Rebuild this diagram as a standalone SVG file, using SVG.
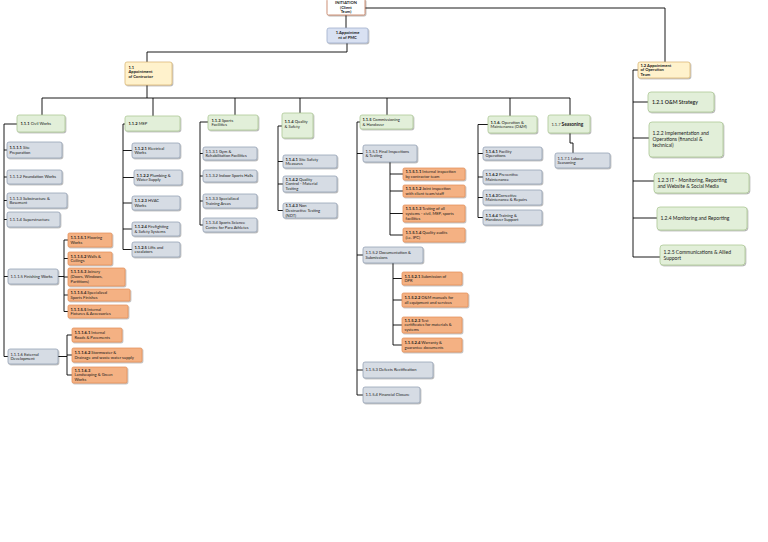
<svg xmlns="http://www.w3.org/2000/svg" width="768" height="542" viewBox="0 0 768 542">
<defs>
<filter id="sh" x="-10%" y="-10%" width="130%" height="150%"><feDropShadow dx="0.8" dy="0.9" stdDeviation="0.5" flood-color="#000" flood-opacity="0.35"/></filter>
<style>
rect{filter:url(#sh);stroke-width:0.7}
.g{fill:#e2efd9;stroke:#a8c48e}
.b{fill:#d6dce4;stroke:#8e9bb0}
.o{fill:#f4b183;stroke:#e38d53}
.y{fill:#fff2cc;stroke:#d9b36a}
.w{fill:#ffffff;stroke:#c8876a;stroke-width:0.9}
.p{fill:#d9e1f2;stroke:#9aabc8}
text{font-family:Lato,"Liberation Sans",sans-serif;font-size:4.1px;fill:#1a1a1a}
.bd{font-weight:bold}
.c{text-anchor:middle}
.l{font-size:5px}
.con{fill:none;stroke:#000;stroke-width:0.9}
</style>
</defs>
<rect width="768" height="542" fill="#fff" style="filter:none"/>
<g id="connectors" class="con">
<path d="M346 15V28M365 8H665V62M347 43V52H147V62M147 85V98M42 98H570M42 98V115M153 98V116M235 98V115M300 98V113M387 98V115M510 98V116M570 98V115"/>
<path d="M17 124H4V356.5M4 150H7M4 177H7M4 200.5H7M4 219.5H7M4 276.5H8M4 356.5H8"/>
<path d="M58 276.5H64M64 240V311.5M64 240H68M64 258.5H68M64 277H68M64 295H68M64 311.5H68"/>
<path d="M58 356.5H67M67 335V375M67 335H72M67 355H72M67 375H72"/>
<path d="M125 124H123V249.5M123 150.5H132M123 177.5H134M123 203H132M123 229H132M123 249.5H132"/>
<path d="M208 122H200V225M200 153.5H203M200 176H203M200 201H203M200 225H203"/>
<path d="M282 126H278V210.5M278 161.5H283M278 184H283M278 210.5H283"/>
<path d="M360 122H357V395M357 153.5H363M357 255H363M357 370H363M357 395H363"/>
<path d="M390 162V235M390 174H403M390 191H403M390 213.5H403M390 235H403"/>
<path d="M393 263V345M393 278.5H402M393 300H402M393 325H402M393 345H402"/>
<path d="M488 124.5H478V217.5M478 153.5H483M478 177H483M478 197.5H483M478 217.5H483"/>
<path d="M570 133V143H573V153"/>
<path d="M638 70H633V257M633 102H648M633 138H649M633 181H654M633 218H657M633 257H660"/>
</g>
<g id="n-root"><rect class="w" x="327" y="-1" width="38" height="16" rx="1.5"/><text class="bd c"><tspan x="346" y="4">INITIATION</tspan><tspan x="346" y="8.7">(Client</tspan><tspan x="346" y="13.4">Team)</tspan></text></g>
<g id="n-1"><rect class="p" x="327" y="28" width="41" height="15" rx="2"/><text class="bd c"><tspan x="347.5" y="34.4">1.Appointme</tspan><tspan x="347.5" y="39.2">nt of PMC</tspan></text></g>
<g id="n-1-1"><rect class="y" x="125" y="62" width="47" height="23" rx="2"/><text class="bd"><tspan x="128.5" y="68.5">1.1</tspan><tspan x="128.5" y="73.2">Appointment</tspan><tspan x="128.5" y="77.9">of Contractor</tspan></text></g>

<g id="n-1-1-1"><rect class="g" x="17" y="115" width="48" height="17" rx="2"/><text x="20.5" y="124.85"><tspan class="bd">1.1.1</tspan> Civil Works</text></g>
<g id="n-1-1-1-1"><rect class="b" x="7" y="142" width="55" height="16" rx="2"/><text><tspan x="9.5" y="149.1"><tspan class="bd">1.1.1.1</tspan> Site</tspan><tspan x="9.5" y="153.8">Preparation</tspan></text></g>
<g id="n-1-1-1-2"><rect class="b" x="7" y="170" width="55" height="14" rx="2"/><text x="9.5" y="178.4">1.1.1.2 Foundation Works</text></g>
<g id="n-1-1-1-3"><rect class="b" x="7" y="193" width="60" height="15" rx="2"/><text><tspan x="9.5" y="199.6">1.1.1.3 Substructure &amp;</tspan><tspan x="9.5" y="204.3">Basement</tspan></text></g>
<g id="n-1-1-1-4"><rect class="b" x="7" y="212" width="53" height="15" rx="2"/><text x="9.5" y="220.9">1.1.1.4 Superstructure</text></g>
<g id="n-1-1-1-5"><rect class="b" x="8" y="269" width="50" height="15" rx="2"/><text x="10.5" y="277.9">1.1.1.5 Finishing Works</text></g>
<g id="n-1-1-1-6"><rect class="b" x="8" y="349" width="50" height="15" rx="2"/><text><tspan x="10.5" y="355.6">1.1.1.6 External</tspan><tspan x="10.5" y="360.3">Development</tspan></text></g>

<g id="n-1-1-1-5-1"><rect class="o" x="68" y="233" width="44" height="14" rx="1.5"/><text><tspan x="70.5" y="239.1"><tspan class="bd">1.1.1.5.1</tspan> Flooring</tspan><tspan x="70.5" y="243.8">Works</tspan></text></g>
<g id="n-1-1-1-5-2"><rect class="o" x="68" y="252" width="44" height="13" rx="1.5"/><text><tspan x="70.5" y="257.6"><tspan class="bd">1.1.1.5.2</tspan> Walls &amp;</tspan><tspan x="70.5" y="262.3">Ceilings</tspan></text></g>
<g id="n-1-1-1-5-3"><rect class="o" x="68" y="268" width="57" height="18" rx="1.5"/><text><tspan x="70.5" y="273.2"><tspan class="bd">1.1.1.5.3</tspan> Joinery</tspan><tspan x="70.5" y="277.9">(Doors, Windows,</tspan><tspan x="70.5" y="282.6">Partitions)</tspan></text></g>
<g id="n-1-1-1-5-4"><rect class="o" x="68" y="289" width="62" height="12" rx="1.5"/><text><tspan x="70.5" y="294.1"><tspan class="bd">1.1.1.5.4</tspan> Specialized</tspan><tspan x="70.5" y="298.8">Sports Finishes</tspan></text></g>
<g id="n-1-1-1-5-5"><rect class="o" x="68" y="305" width="60" height="13" rx="1.5"/><text><tspan x="70.5" y="310.6"><tspan class="bd">1.1.1.5.5</tspan> Internal</tspan><tspan x="70.5" y="315.3">Fixtures &amp; Accessories</tspan></text></g>

<g id="n-1-1-1-6-1"><rect class="o" x="72" y="328" width="50" height="14" rx="1.5"/><text><tspan x="74.5" y="334.1"><tspan class="bd">1.1.1.6.1</tspan> Internal</tspan><tspan x="74.5" y="338.8">Roads &amp; Pavements</tspan></text></g>
<g id="n-1-1-1-6-2"><rect class="o" x="72" y="348" width="70" height="14" rx="1.5"/><text><tspan x="74.5" y="354.1"><tspan class="bd">1.1.1.6.2</tspan>  Stormwater &amp;</tspan><tspan x="74.5" y="358.8">Drainage and waste water supply</tspan></text></g>
<g id="n-1-1-1-6-3"><rect class="o" x="72" y="367" width="55" height="16" rx="1.5"/><text><tspan x="74.5" y="371.7" class="bd">1.1.1.6.3</tspan><tspan x="74.5" y="376.4">Landscaping &amp; Green</tspan><tspan x="74.5" y="381.1">Works</tspan></text></g>

<g id="n-1-1-2"><rect class="g" x="125" y="116" width="55" height="15" rx="2"/><text x="128.5" y="124.85"><tspan class="bd">1.1.2</tspan> MEP</text></g>
<g id="n-1-1-2-1"><rect class="b" x="132" y="143" width="48" height="15" rx="2"/><text><tspan x="134.5" y="149.6"><tspan class="bd">1.1.2.1</tspan> Electrical</tspan><tspan x="134.5" y="154.3">Works</tspan></text></g>
<g id="n-1-1-2-2"><rect class="b" x="134" y="170" width="48" height="15" rx="2"/><text><tspan x="136.5" y="176.6"><tspan class="bd">1.1.2.2</tspan> Plumbing &amp;</tspan><tspan x="136.5" y="181.3">Water Supply</tspan></text></g>
<g id="n-1-1-2-3"><rect class="b" x="132" y="196" width="48" height="14" rx="2"/><text><tspan x="134.5" y="202.1"><tspan class="bd">1.1.2.3</tspan> HVAC</tspan><tspan x="134.5" y="206.8">Works</tspan></text></g>
<g id="n-1-1-2-4"><rect class="b" x="132" y="222" width="48" height="14" rx="2"/><text><tspan x="134.5" y="228.1"><tspan class="bd">1.1.2.4</tspan> Firefighting</tspan><tspan x="134.5" y="232.8">&amp; Safety Systems</tspan></text></g>
<g id="n-1-1-2-5"><rect class="b" x="132" y="242" width="48" height="15" rx="2"/><text><tspan x="134.5" y="248.6"><tspan class="bd">1.1.2.5</tspan> Lifts and</tspan><tspan x="134.5" y="253.3">escalators</tspan></text></g>

<g id="n-1-1-3"><rect class="g" x="208" y="115" width="50" height="15" rx="2"/><text><tspan x="211.5" y="121.6"><tspan class="bd">1.1.3</tspan>  Sports</tspan><tspan x="211.5" y="126.3">Facilities</tspan></text></g>
<g id="n-1-1-3-1"><rect class="b" x="203" y="147" width="54" height="13" rx="2"/><text><tspan x="205.5" y="152.6">1.1.3.1 Gym &amp;</tspan><tspan x="205.5" y="157.3">Rehabilitation Facilities</tspan></text></g>
<g id="n-1-1-3-2"><rect class="b" x="203" y="170" width="54" height="12" rx="2"/><text x="205.5" y="177.4">1.1.3.2 Indoor Sports Halls</text></g>
<g id="n-1-1-3-3"><rect class="b" x="203" y="194" width="54" height="14" rx="2"/><text><tspan x="205.5" y="200.1">1.1.3.3 Specialized</tspan><tspan x="205.5" y="204.8">Training Areas</tspan></text></g>
<g id="n-1-1-3-4"><rect class="b" x="203" y="218" width="54" height="14" rx="2"/><text><tspan x="205.5" y="224.1">1.1.3.4  Sports Science</tspan><tspan x="205.5" y="228.8">Centre for Para Athletes</tspan></text></g>

<g id="n-1-1-4"><rect class="g" x="282" y="113" width="31" height="25" rx="2"/><text><tspan x="284.5" y="123"><tspan class="bd">1.1.4</tspan>  Quality</tspan><tspan x="284.5" y="127.7">&amp; Safety</tspan></text></g>
<g id="n-1-1-4-1"><rect class="b" x="283" y="155" width="54" height="13" rx="2"/><text><tspan x="285.5" y="160.6"><tspan class="bd">1.1.4.1</tspan> Site Safety</tspan><tspan x="285.5" y="165.3">Measures</tspan></text></g>
<g id="n-1-1-4-2"><rect class="b" x="283" y="176" width="54" height="16" rx="2"/><text><tspan x="285.5" y="180.7"><tspan class="bd">1.1.4.2</tspan>  Quality</tspan><tspan x="285.5" y="185.4">Control - Material</tspan><tspan x="285.5" y="190.1">Testing</tspan></text></g>
<g id="n-1-1-4-3"><rect class="b" x="283" y="203" width="54" height="15" rx="2"/><text><tspan x="285.5" y="207.2"><tspan class="bd">1.1.4.3</tspan> Non</tspan><tspan x="285.5" y="211.9">Destructive Testing</tspan><tspan x="285.5" y="216.6">(NDT)</tspan></text></g>

<g id="n-1-1-5"><rect class="g" x="360" y="115" width="53" height="14" rx="2"/><text><tspan x="362.5" y="121.1"><tspan class="bd">1.1.5</tspan> Commissioning</tspan><tspan x="362.5" y="125.8">&amp; Handover</tspan></text></g>
<g id="n-1-1-5-1"><rect class="b" x="363" y="145" width="54" height="17" rx="2"/><text><tspan x="365.5" y="152.6">1.1.5.1 Final Inspections</tspan><tspan x="365.5" y="157.3">&amp; Testing</tspan></text></g>
<g id="n-1-1-5-2"><rect class="b" x="363" y="247" width="60" height="16" rx="2"/><text><tspan x="365.5" y="254.1">1.1.5.2 Documentation &amp;</tspan><tspan x="365.5" y="258.8">Submissions</tspan></text></g>
<g id="n-1-1-5-3"><rect class="b" x="363" y="362" width="70" height="16" rx="2"/><text x="365.5" y="371.4">1.1.5.3 Defects Rectification</text></g>
<g id="n-1-1-5-4"><rect class="b" x="363" y="387" width="57" height="16" rx="2"/><text x="365.5" y="396.4">1.1.5.4 Financial Closure</text></g>

<g id="n-1-1-5-1-1"><rect class="o" x="403" y="168" width="62" height="12" rx="1.5"/><text><tspan x="405.5" y="173.1"><tspan class="bd">1.1.5.1.1</tspan>  Internal inspection</tspan><tspan x="405.5" y="177.8">by contractor team</tspan></text></g>
<g id="n-1-1-5-1-2"><rect class="o" x="403" y="185" width="62" height="12" rx="1.5"/><text><tspan x="405.5" y="190.1"><tspan class="bd">1.1.5.1.2</tspan>  Joint inspection</tspan><tspan x="405.5" y="194.8">with client team/staff</tspan></text></g>
<g id="n-1-1-5-1-3"><rect class="o" x="403" y="205" width="62" height="17" rx="1.5"/><text><tspan x="405.5" y="210.2"><tspan class="bd">1.1.5.1.3</tspan>  Testing of all</tspan><tspan x="405.5" y="214.9">systems - civil, MEP, sports</tspan><tspan x="405.5" y="219.6">facilities</tspan></text></g>
<g id="n-1-1-5-1-4"><rect class="o" x="403" y="228" width="62" height="14" rx="1.5"/><text><tspan x="405.5" y="234.1"><tspan class="bd">1.1.5.1.4</tspan>  Quality audits</tspan><tspan x="405.5" y="238.8">(i.e. IPC)</tspan></text></g>

<g id="n-1-1-5-2-1"><rect class="o" x="402" y="272" width="60" height="13" rx="1.5"/><text><tspan x="404.5" y="277.6"><tspan class="bd">1.1.5.2.1</tspan>  Submission of</tspan><tspan x="404.5" y="282.3">DPR</tspan></text></g>
<g id="n-1-1-5-2-2"><rect class="o" x="402" y="293" width="66" height="14" rx="1.5"/><text><tspan x="404.5" y="299.1"><tspan class="bd">1.1.5.2.2</tspan>  O&amp;M manuals for</tspan><tspan x="404.5" y="303.8">all equipment and services</tspan></text></g>
<g id="n-1-1-5-2-3"><rect class="o" x="402" y="317" width="60" height="16" rx="1.5"/><text><tspan x="404.5" y="321.7"><tspan class="bd">1.1.5.2.3</tspan>  Test</tspan><tspan x="404.5" y="326.4">certificates for materials &amp;</tspan><tspan x="404.5" y="331.1">systems</tspan></text></g>
<g id="n-1-1-5-2-4"><rect class="o" x="402" y="338" width="60" height="14" rx="1.5"/><text><tspan x="404.5" y="344.1"><tspan class="bd">1.1.5.2.4</tspan>  Warranty &amp;</tspan><tspan x="404.5" y="348.8">guarantee documents</tspan></text></g>

<g id="n-1-1-6"><rect class="g" x="488" y="116" width="49" height="17" rx="2"/><text><tspan x="490.5" y="123.6"><tspan class="bd">1.1.6.</tspan> Operation &amp;</tspan><tspan x="490.5" y="128.3">Maintenance (O&amp;M)</tspan></text></g>
<g id="n-1-1-6-1"><rect class="b" x="483" y="147" width="59" height="13" rx="2"/><text><tspan x="485.5" y="152.6"><tspan class="bd">1.1.6.1</tspan> Facility</tspan><tspan x="485.5" y="157.3">Operations</tspan></text></g>
<g id="n-1-1-6-2"><rect class="b" x="483" y="170" width="59" height="14" rx="2"/><text><tspan x="485.5" y="176.1"><tspan class="bd">1.1.6.2</tspan>  Preventive</tspan><tspan x="485.5" y="180.8">Maintenance</tspan></text></g>
<g id="n-1-1-6-3"><rect class="b" x="483" y="190" width="59" height="15" rx="2"/><text><tspan x="485.5" y="196.6"><tspan class="bd">1.1.6.3</tspan>Corrective</tspan><tspan x="485.5" y="201.3">Maintenance &amp; Repairs</tspan></text></g>
<g id="n-1-1-6-4"><rect class="b" x="483" y="210" width="59" height="15" rx="2"/><text><tspan x="485.5" y="216.6"><tspan class="bd">1.1.6.4</tspan>  Training &amp;</tspan><tspan x="485.5" y="221.3">Handover Support</tspan></text></g>

<g id="n-1-1-7"><rect class="g" x="548" y="115" width="42" height="18" rx="2"/><text x="551.5" y="125.6">1.1.7 <tspan class="bd" style="font-size:4.8px">Seasoning</tspan></text></g>
<g id="n-1-1-7-1"><rect class="b" x="555" y="153" width="55" height="15" rx="2"/><text><tspan x="557.5" y="159.6">1.1.7.1 Labour</tspan><tspan x="557.5" y="164.3">Seasoning</tspan></text></g>

<g id="n-1-2"><rect class="y" x="638" y="62" width="52" height="16" rx="2"/><text class="bd"><tspan x="640.5" y="66.6">1.2 Appointment</tspan><tspan x="640.5" y="71.1">of Operation</tspan><tspan x="640.5" y="75.6">Team</tspan></text></g>
<g id="n-1-2-1"><rect class="g" x="648" y="92" width="66" height="20" rx="3"/><text x="652" y="103.8" style="font-size:5.2px;font-weight:600">1.2.1 O&amp;M Strategy</text></g>
<g id="n-1-2-2"><rect class="g" x="649" y="122" width="74" height="35" rx="3"/><text class="l"><tspan x="652.5" y="134.5">1.2.2  Implementation and</tspan><tspan x="652.5" y="140.5">Operations (financial &amp;</tspan><tspan x="652.5" y="146.5">technical)</tspan></text></g>
<g id="n-1-2-3"><rect class="g" x="654" y="173" width="95" height="20" rx="3"/><text class="l"><tspan x="657.5" y="181.8">1.2.3 IT - Monitoring, Reporting</tspan><tspan x="657.5" y="187.8">and Website &amp; Social Media</tspan></text></g>
<g id="n-1-2-4"><rect class="g" x="657" y="207" width="90" height="23" rx="3"/><text class="l" x="660.5" y="220.2">1.2.4 Monitoring and Reporting</text></g>
<g id="n-1-2-5"><rect class="g" x="660" y="245" width="85" height="20" rx="3"/><text class="l"><tspan x="663.5" y="253.6">1.2.5 Communications  &amp; Allied</tspan><tspan x="663.5" y="259.6">Support</tspan></text></g>
</svg>
